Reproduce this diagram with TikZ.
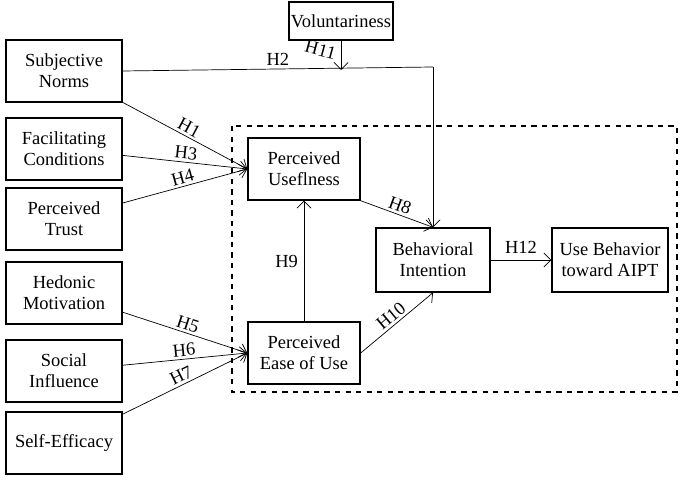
\documentclass[tikz,border=0pt]{standalone}
\usepackage{fontspec}
\setmainfont{Liberation Serif}
\usetikzlibrary{arrows.meta}
\begin{document}
\begin{tikzpicture}[x=0.02cm, y=-0.02cm, font=\fontsize{10.5}{12}\selectfont,
    box/.style={draw, thick, align=center, minimum width=2.32cm, minimum height=1.24cm, inner sep=1pt},
    link/.style={-{Straight Barb[length=4pt]}},
    hyp/.style={midway, sloped, above, inner sep=1.5pt}]
    \useasboundingbox (0,0) rectangle (685,482);
    \draw [dashed, thick] (232,126) rectangle (677,392);

    % exogenous constructs
    \node [box] (sn) at (64,71) {Subjective\\Norms};
    \node [box] (fc) at (64,149) {Facilitating\\Conditions};
    \node [box] (pt) at (64,219) {Perceived\\Trust};
    \node [box] (hm) at (64,293) {Hedonic\\Motivation};
    \node [box] (si) at (64,371) {Social\\Influence};
    \node [box] (se) at (64,443) {Self-Efficacy};
    \node [box, minimum width=2.06cm, minimum height=0.76cm] (vo) at (341,21) {Voluntariness};

    % model core
    \node [box, minimum width=2.24cm] (pu) at (304,169) {Perceived\\Useflness};
    \node [box, minimum width=2.24cm] (pe) at (304,353) {Perceived\\Ease of Use};
    \node [box, minimum width=2.28cm, minimum height=1.28cm] (bi) at (433,260) {Behavioral\\Intention};
    \node [box, minimum width=2.32cm, minimum height=1.28cm] (ub) at (610,260) {Use Behavior\\toward AIPT};

    \coordinate (corner) at (433,67);
    \coordinate (mod) at (341,70);

    \draw [link] (sn) -- (pu.west) node [hyp] {H1};
    \draw (sn.east) -- (corner) node [midway, above, inner sep=2pt] {H2};
    \draw [link] (corner) -- (bi);
    \draw [link] (vo) -- (mod) node [midway, left, inner sep=1pt, rotate=-15, xshift=-2pt] {H11};
    \draw [link] (fc) -- (pu.west) node [hyp] {H3};
    \draw [link] (pt) -- (pu.west) node [hyp] {H4};
    \draw [link] (hm) -- (pe.west) node [hyp] {H5};
    \draw [link] (si) -- (pe.west) node [hyp] {H6};
    \draw [link] (se) -- (pe.west) node [hyp] {H7};
    \draw [link] (pe) -- (pu) node [midway, left] {H9};
    \draw [link] (pu.south east) -- (bi.north) node [hyp] {H8};
    \draw [link] (pe.east) -- (bi.south) node [hyp] {H10};
    \draw [link] (bi) -- (ub) node [midway, above] {H12};
\end{tikzpicture}
\end{document}
